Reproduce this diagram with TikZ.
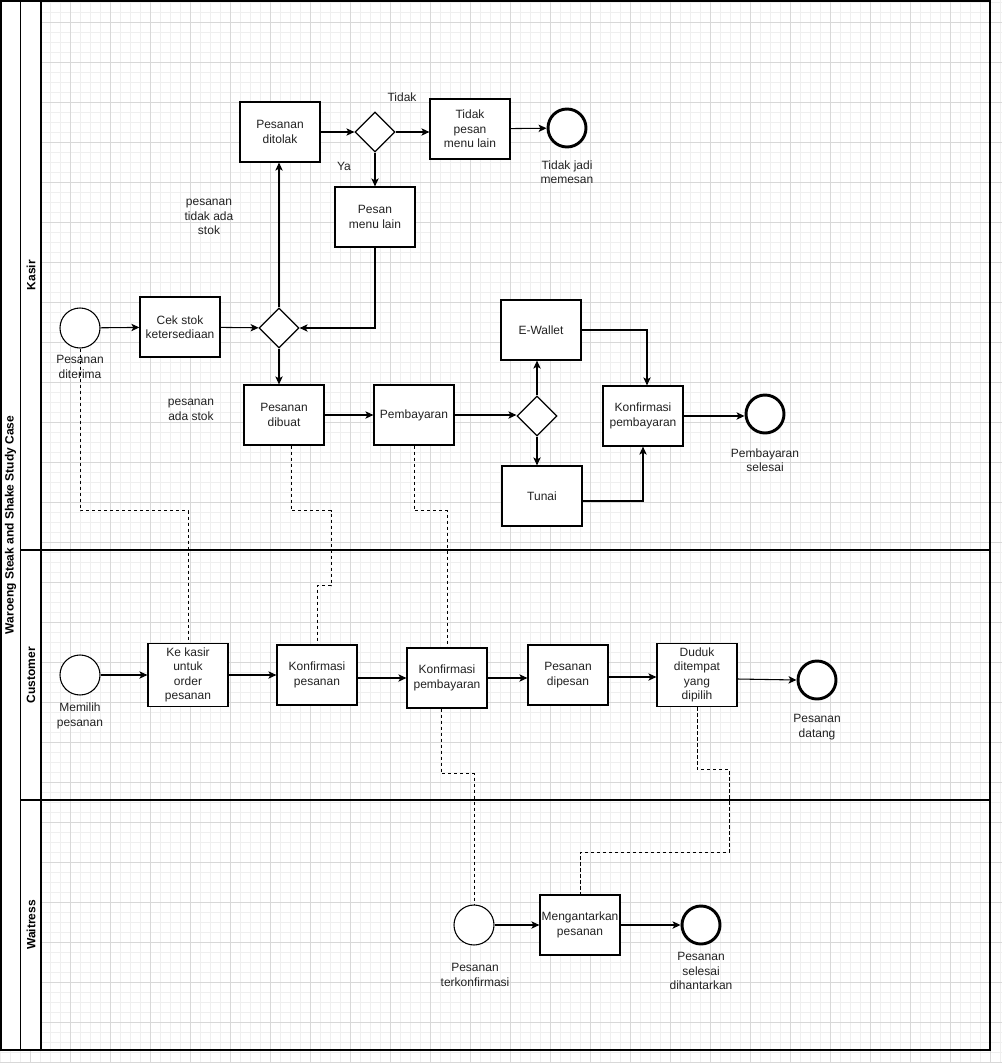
\documentclass[tikz,border=0pt]{standalone}
\usepackage{fontspec}
\setmainfont{Liberation Sans}
\usetikzlibrary{arrows.meta,shapes.geometric}

\definecolor{minorline}{HTML}{EFEFEF}
\definecolor{majorline}{HTML}{D8D8D8}
\definecolor{textgray}{HTML}{222222}

\tikzset{
    txt/.style={font=\fontsize{9}{10.8}\selectfont, text=textgray},
    task/.style={txt, draw, fill=white, line width=0.9pt, minimum width=60pt,
        minimum height=45pt, inner xsep=0pt, align=center},
    gateway/.style={draw, fill=white, line width=0.9pt, diamond, minimum size=30pt, inner sep=0pt},
    startev/.style={draw, fill=white, line width=0.8pt, circle, minimum size=30pt, inner sep=0pt},
    endev/.style={draw, fill=white, line width=2.2pt, circle, minimum size=28.5pt, inner sep=0pt},
    lbl/.style={txt, align=center, inner sep=0pt},
    lanelbl/.style={font=\fontsize{9}{10.8}\selectfont\bfseries, rotate=90},
    flow/.style={line width=0.8pt, -{Stealth[length=6pt,width=5.5pt,inset=1.5pt]}},
    msgflow/.style={line width=0.75pt, dash pattern=on 2.5pt off 2pt}
}

\begin{document}
    \begin{tikzpicture}[x=0.75pt,y=-0.75pt]
        \useasboundingbox (0,0) rectangle (1002,1063);
        %% Background grid
        \fill[white] (0,0) rectangle (1002,1063);
        \foreach \gx in {0,10,...,1000} \draw[minorline,line width=0.4pt] (\gx,0) -- (\gx,1063);
        \foreach \gy in {2,12,...,1062} \draw[minorline,line width=0.4pt] (0,\gy) -- (1002,\gy);
        \foreach \gx in {30,70,...,990} \draw[majorline,line width=0.5pt] (\gx,0) -- (\gx,1063);
        \foreach \gy in {22,62,...,1062} \draw[majorline,line width=0.5pt] (0,\gy) -- (1002,\gy);

        %% Pool and lanes
        \fill[white] (1,1) rectangle (41,1050);
        \draw[line width=1pt] (1,1) rectangle (990,1050);
        \draw[line width=1pt] (20.5,1) -- (20.5,1050);
        \draw[line width=1pt] (41,1) -- (41,1050);
        \draw[line width=1pt] (20.5,550) -- (990,550);
        \draw[line width=1pt] (20.5,800) -- (990,800);
        \node[lanelbl] (pooltitle) at (10.5,525) {Waroeng Steak and Shake Study Case};
        \node[lanelbl] (kasirlane) at (31,275) {Kasir};
        \node[lanelbl] (customerlane) at (31,675) {Customer};
        \node[lanelbl] (waitresslane) at (31,925) {Waitress};

        %% Kasir
        \node[startev] (diterima) at (80,328) {};
        \node[lbl] (diterimalbl) at (80,367) {Pesanan\\diterima};
        \node[task] (cekstok) at (180,327) {Cek stok\\ketersediaan};
        \node[gateway] (gwstok) at (279,328) {};
        \node[task] (ditolak) at (280,132) {Pesanan\\ditolak};
        \node[gateway] (gwlain) at (375,132) {};
        \node[task] (tidakpesan) at (470,129) {Tidak\\pesan\\menu lain};
        \node[endev] (batal) at (567,128) {};
        \node[lbl] (batallbl) at (567,172) {Tidak jadi\\memesan};
        \node[task] (pesanlain) at (375,217) {Pesan\\menu lain};
        \node[lbl] (tidaklbl) at (402,97) {Tidak};
        \node[lbl] (yalbl) at (344,166) {Ya};
        \node[lbl] (tidakstoklbl) at (209,217) {pesanan\\tidak ada\\stok};
        \node[lbl] (adastoklbl) at (191,410) {pesanan\\ada stok};
        \node[task] (dibuat) at (284,415) {Pesanan\\dibuat};
        \node[task] (bayar) at (414,415) {Pembayaran};
        \node[gateway] (gwbayar) at (537,416) {};
        \node[task] (ewallet) at (541,330) {E-Wallet};
        \node[task] (tunai) at (542,496) {Tunai};
        \node[task] (konfkasir) at (643,416) {Konfirmasi\\pembayaran};
        \node[endev] (bayarselesai) at (765,414) {};
        \node[lbl] (bayarselesailbl) at (765,460) {Pembayaran\\selesai};

        \draw[flow] (diterima) -- (cekstok);
        \draw[flow] (cekstok) -- (gwstok);
        \draw[flow] (gwstok.north) -- (gwstok.north |- ditolak.south);
        \draw[flow] (ditolak) -- (gwlain);
        \draw[flow] (gwlain.east) -- (gwlain.east -| tidakpesan.west);
        \draw[flow] (tidakpesan) -- (batal);
        \draw[flow] (gwlain) -- (pesanlain);
        \draw[flow] (pesanlain.south) |- (gwstok.east);
        \draw[flow] (gwstok.south) -- (gwstok.south |- dibuat.north);
        \draw[flow] (dibuat) -- (bayar);
        \draw[flow] (bayar.east) -- (bayar.east -| gwbayar.west);
        \draw[flow] (gwbayar.north) -- (gwbayar.north |- ewallet.south);
        \draw[flow] (gwbayar.south) -- (gwbayar.south |- tunai.north);
        \draw[flow] (ewallet.east) -| ([xshift=3pt]konfkasir.north);
        \draw[flow] ([yshift=-3.75pt]tunai.east) -| (konfkasir.south);
        \draw[flow] (konfkasir.east) -- (konfkasir.east -| bayarselesai.west);

        %% Customer
        \node[startev] (memilih) at (80,675) {};
        \node[lbl] (memilihlbl) at (80,716) {Memilih\\pesanan};
        \node[task] (kekasir) at (188,675) {Ke kasir\\untuk\\order\\pesanan};
        \node[task] (konfpesan) at (317,675) {Konfirmasi\\pesanan};
        \node[task] (konfcust) at (447,678) {Konfirmasi\\pembayaran};
        \node[task] (dipesan) at (568,675) {Pesanan\\dipesan};
        \node[task] (duduk) at (697,675) {Duduk\\ditempat\\yang\\dipilih};
        \node[endev] (datang) at (817,680) {};
        \node[lbl] (datanglbl) at (817,727) {Pesanan\\datang};

        \draw[flow] (memilih) -- (kekasir);
        \draw[flow] (kekasir) -- (konfpesan);
        \draw[flow] ([yshift=-2.25pt]konfpesan.east) -- (konfcust.west);
        \draw[flow] (konfcust.east) -- (konfcust.east -| dipesan.west);
        \draw[flow] ([yshift=-1.5pt]dipesan.east) -- ([yshift=-1.5pt]duduk.west);
        \draw[flow] ([yshift=-3pt]duduk.east) -- (datang.west);

        %% Waitress
        \node[startev] (terkonf) at (474,925) {};
        \node[lbl] (terkonflbl) at (475,975) {Pesanan\\terkonfirmasi};
        \node[task] (antar) at (580,925) {Mengantarkan\\pesanan};
        \node[endev] (dihantar) at (701,925) {};
        \node[lbl] (dihantarlbl) at (701,971) {Pesanan\\selesai\\dihantarkan};

        \draw[flow] (terkonf) -- (antar);
        \draw[flow] (antar) -- (dihantar);

        %% Message flows between lanes
        \draw[msgflow] (diterima.south) -- ++(0,162) -| (kekasir.north);
        \draw[msgflow] ([xshift=5.25pt]dibuat.south) -- ++(0,65) -- ++(40,0) -- ++(0,75) -| (konfpesan.north);
        \draw[msgflow] (bayar.south) -- ++(0,65) -| (konfcust.north);
        \draw[msgflow] ([xshift=-4.5pt]konfcust.south) -- ++(0,65) -| (terkonf.north);
        \draw[msgflow] (duduk.south) -- ++(0,62) -- ++(32,0) -- ++(0,83) -| (antar.north);
    \end{tikzpicture}
\end{document}
